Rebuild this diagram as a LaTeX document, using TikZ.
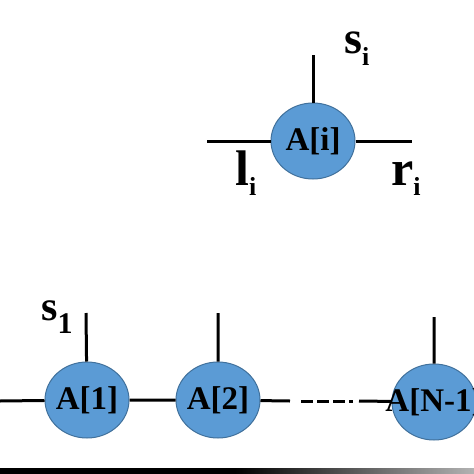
\documentclass[tikz,border=0pt]{standalone}
\usepackage{fontspec}
\setmainfont{Liberation Serif}
\usetikzlibrary{shapes.geometric}
\definecolor{siteblue}{RGB}{91,155,213}
\definecolor{siteedge}{RGB}{65,113,156}
\newcommand{\tlab}[5]{\bfseries\fontsize{#3}{#3}\selectfont #1\raisebox{-#5}{\fontsize{#4}{#4}\selectfont #2}}
\begin{document}
\begin{tikzpicture}[x=1pt,y=-1pt,
site/.style={ellipse,draw=siteedge,line width=1pt,fill=siteblue,minimum width=84pt,minimum height=76pt,inner sep=0pt},
bond/.style={line width=3pt},
every label/.style={font=\bfseries\fontsize{33}{33}\selectfont},
tag/.style={anchor=base west,inner sep=0pt}]
\useasboundingbox (0,0) rectangle (474,474);
\node[site,label={center:A[i]}] (Ai) at (313,141) {};
\coordinate (si) at (313,55); \coordinate (li) at (207,141); \coordinate (ri) at (412,141);
\draw[bond] (Ai) -- (si) (Ai) -- (li) (Ai) -- (ri);
\node[tag] (tsi) at (344,53) {\tlab{s}{i}{46}{26}{12pt}};
\node[tag] (tli) at (235,185) {\tlab{l}{i}{50}{26}{10pt}};
\node[tag] (tri) at (391,185) {\tlab{r}{i}{50}{26}{10pt}};
\node[site,label={center:A[1]}] (A1) at (87,400) {};
\node[site,label={center:A[2]}] (A2) at (218,400) {};
\node[site,label={center:A[N-1]}] (AN) at (434,402) {};
\coordinate (l1) at (0,401); \coordinate (s1) at (86,313); \coordinate (s2) at (218,313); \coordinate (sN) at (434,317);
\coordinate (d0) at (290,401); \coordinate (d1) at (301,401); \coordinate (d2) at (353,401); \coordinate (d3) at (359,401);
\draw[bond] (l1) -- (A1) (A1) -- (A2) (A1) -- (s1) (A2) -- (s2) (AN) -- (sN) (A2) -- (d0) (d3) -- (AN);
\draw[bond,dash pattern=on 12pt off 4pt] (d1) -- (d2);
\node[tag] (ts1) at (41,320) {\tlab{s}{1}{42}{30}{13pt}};
\fill (0,468) rectangle (235,474);
\shade[left color=black,right color=gray!60] (235,468) rectangle (474,474);
\end{tikzpicture}
\end{document}
